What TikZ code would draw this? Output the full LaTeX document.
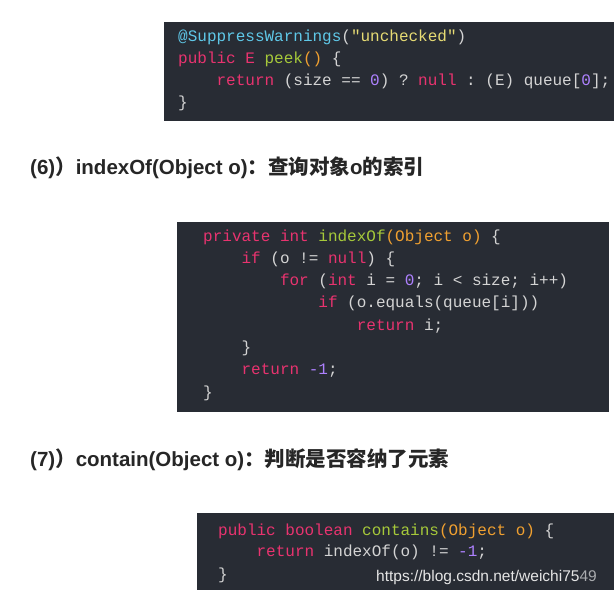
\documentclass[tikz,border=0pt]{standalone}
\usepackage{fontspec}
\setmainfont{Liberation Sans}
\setmonofont{Liberation Mono}
\newfontfamily\cjk{Noto Sans CJK SC}
\definecolor{bgc}{HTML}{282C34}
\definecolor{kw}{HTML}{E8336F}
\definecolor{fn}{HTML}{A6C93A}
\definecolor{pa}{HTML}{F0A030}
\definecolor{an}{HTML}{5FC8E8}
\definecolor{st}{HTML}{E6DB74}
\definecolor{nu}{HTML}{AE81FF}
\definecolor{tx}{HTML}{D4D4D4}
\newcommand{\K}[1]{\textcolor{kw}{#1}}
\newcommand{\F}[1]{\textcolor{fn}{#1}}
\newcommand{\Pa}[1]{\textcolor{pa}{#1}}
\newcommand{\N}[1]{\textcolor{nu}{#1}}
\begin{document}
\begin{tikzpicture}[x=1pt,y=-1pt,
  code/.style={anchor=west,inner sep=0,text=tx,font=\ttfamily\fontsize{16}{18}\selectfont},
  head/.style={anchor=west,inner sep=0,text=black!85,font=\bfseries\fontsize{20.5}{23}\selectfont}]
\useasboundingbox (0,0) rectangle (614,596);
\fill[white] (0,0) rectangle (614,596);
\fill[bgc] (164,22) rectangle (614,121);
\fill[bgc] (177,222) rectangle (609,412);
\fill[bgc] (197,513) rectangle (614,590);
\node[code] (a1) at (178,37) {\textcolor{an}{@SuppressWarnings}(\textcolor{st}{"unchecked"})};
\node[code] (a2) at (178,59) {\K{public} \K{E} \F{peek}\Pa{()} \{};
\node[code] (a3) at (178,81) {\K{~~~~return} (size == \N{0}) ? \K{null} : (E) queue[\N{0}];};
\node[code] (a4) at (178,103) {\}};
\node[head] (h6) at (30,168) {(6){\cjk\bfseries ）}indexOf(Object o){\cjk\bfseries ：查询对象}o{\cjk\bfseries 的索引}};
\node[code] (b1) at (203,237) {\K{private} \K{int} \F{indexOf}\Pa{(Object o)} \{};
\node[code] (b2) at (203,259) {~~~~\K{if} (o != \K{null}) \{};
\node[code] (b3) at (203,281) {~~~~~~~~\K{for} (\K{int} i = \N{0}; i < size; i++)};
\node[code] (b4) at (203,303) {~~~~~~~~~~~~\K{if} (o.equals(queue[i]))};
\node[code] (b5) at (203,326) {~~~~~~~~~~~~~~~~\K{return} i;};
\node[code] (b6) at (203,348) {~~~~\}};
\node[code] (b7) at (203,371) {~~~~\K{return} \N{-1};};
\node[code] (b8) at (203,393) {\}};
\node[head] (h7) at (30,460) {(7){\cjk\bfseries ）}contain(Object o){\cjk\bfseries ：判断是否容纳了元素}};
\node[code] (c1) at (218,531) {\K{public} \K{boolean} \F{contains}\Pa{(Object o)} \{};
\node[code] (c2) at (218,552) {~~~~\K{return} indexOf(o) != \N{-1};};
\node[code] (c3) at (218,575) {\}};
\node[anchor=west,inner sep=0,text=white!90!black,font=\fontsize{15.5}{18}\selectfont] (wm) at (376,577) {https://blog.csdn.net/weichi75\textcolor{white!60!bgc}{49}};
\end{tikzpicture}
\end{document}
